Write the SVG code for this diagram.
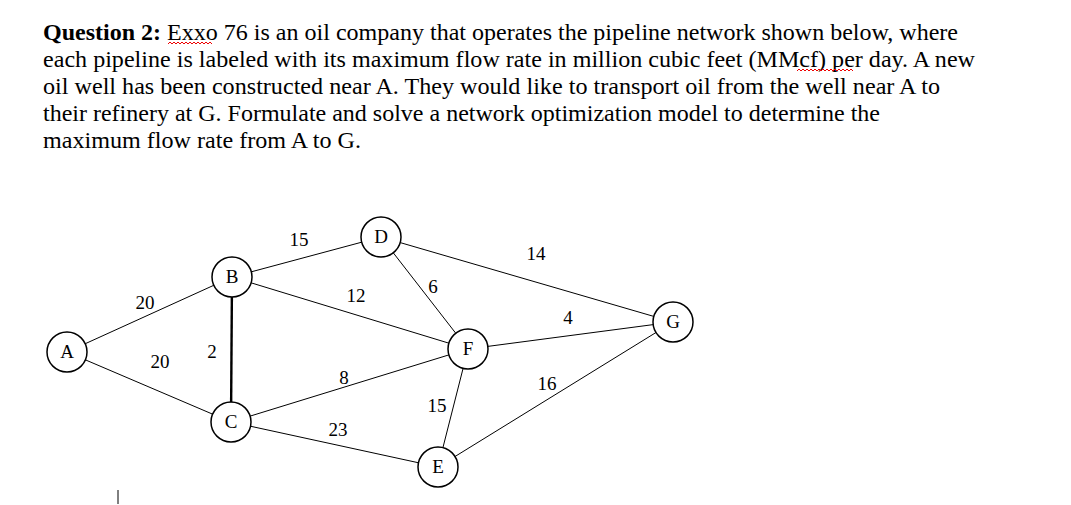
<svg xmlns="http://www.w3.org/2000/svg" width="1071" height="505" viewBox="0 0 1071 505">
<style>
.t{font-family:"Liberation Serif",serif;font-size:24px;fill:#000}
.l{font-family:"Liberation Serif",serif;font-size:19px;fill:#000;text-anchor:middle}
.n circle{fill:#fff;stroke:#000;stroke-width:1.5}
.e line{stroke:#000;stroke-width:1}
.sq{fill:none;stroke:#e00;stroke-width:1}
</style>
<rect width="1071" height="505" fill="#fff"/>
<g id="text">
<text class="t" x="43" y="40" textLength="915" lengthAdjust="spacingAndGlyphs"><tspan font-weight="bold">Question 2:</tspan> Exxo 76 is an oil company that operates the pipeline network shown below, where</text>
<text class="t" x="43" y="67" textLength="932" lengthAdjust="spacingAndGlyphs">each pipeline is labeled with its maximum flow rate in million cubic feet (MMcf) per day. A new</text>
<text class="t" x="43" y="94" textLength="897" lengthAdjust="spacingAndGlyphs">oil well has been constructed near A. They would like to transport oil from the well near A to</text>
<text class="t" x="43" y="121" textLength="837" lengthAdjust="spacingAndGlyphs">their refinery at G. Formulate and solve a network optimization model to determine the</text>
<text class="t" x="43" y="148" textLength="318" lengthAdjust="spacingAndGlyphs">maximum flow rate from A to G.</text>
<path class="sq" d="M168,44 l2,-2 l2,2 l2,-2 l2,2 l2,-2 l2,2 l2,-2 l2,2 l2,-2 l2,2 l2,-2 l2,2 l2,-2 l2,2 l2,-2 l2,2 l2,-2 l2,2 l2,-2 l2,2 l2,-2 l2,2"/>
<path class="sq" d="M797,71 l2,-2 l2,2 l2,-2 l2,2 l2,-2 l2,2 l2,-2 l2,2 l2,-2 l2,2 l2,-2 l2,2 l2,-2 l2,2 l2,-2 l2,2 l2,-2 l2,2 l2,-2 l2,2 l2,-2 l2,2 l2,-2 l2,2 l2,-2 l2,2 l2,-2 l2,2"/>
</g>
<g id="connectors" class="e">
<line x1="67" y1="352" x2="232" y2="277"/>
<line x1="67" y1="352" x2="231" y2="422"/>
<line x1="232" y1="277" x2="231" y2="422" style="stroke-width:2.4"/>
<line x1="232" y1="277" x2="381" y2="237"/>
<line x1="232" y1="277" x2="468" y2="349"/>
<line x1="231" y1="422" x2="468" y2="349"/>
<line x1="231" y1="422" x2="438" y2="467"/>
<line x1="381" y1="237" x2="468" y2="349"/>
<line x1="381" y1="237" x2="673" y2="322"/>
<line x1="468" y1="349" x2="673" y2="322"/>
<line x1="468" y1="349" x2="438" y2="467"/>
<line x1="438" y1="467" x2="673" y2="322"/>
</g>
<g id="labels">
<text class="l" x="299" y="246">15</text>
<text class="l" x="536" y="260">14</text>
<text class="l" x="145" y="309">20</text>
<text class="l" x="356" y="302">12</text>
<text class="l" x="433" y="293">6</text>
<text class="l" x="568" y="324">4</text>
<text class="l" x="212" y="358">2</text>
<text class="l" x="160" y="368">20</text>
<text class="l" x="344" y="384">8</text>
<text class="l" x="547" y="390">16</text>
<text class="l" x="437" y="412">15</text>
<text class="l" x="338" y="436">23</text>
</g>
<g id="A" class="n"><circle cx="67" cy="352" r="20"/><text class="l" x="67" y="358">A</text></g>
<g id="B" class="n"><circle cx="232" cy="277" r="20"/><text class="l" x="232" y="283">B</text></g>
<g id="C" class="n"><circle cx="231" cy="422" r="20"/><text class="l" x="231" y="428">C</text></g>
<g id="D" class="n"><circle cx="381" cy="237" r="20"/><text class="l" x="381" y="243">D</text></g>
<g id="F" class="n"><circle cx="468" cy="349" r="20"/><text class="l" x="468" y="355">F</text></g>
<g id="E" class="n"><circle cx="438" cy="467" r="20"/><text class="l" x="438" y="473">E</text></g>
<g id="G" class="n"><circle cx="673" cy="322" r="20"/><text class="l" x="673" y="328">G</text></g>
<line x1="118" y1="490" x2="118" y2="504" stroke="#000" stroke-width="1"/>
</svg>
